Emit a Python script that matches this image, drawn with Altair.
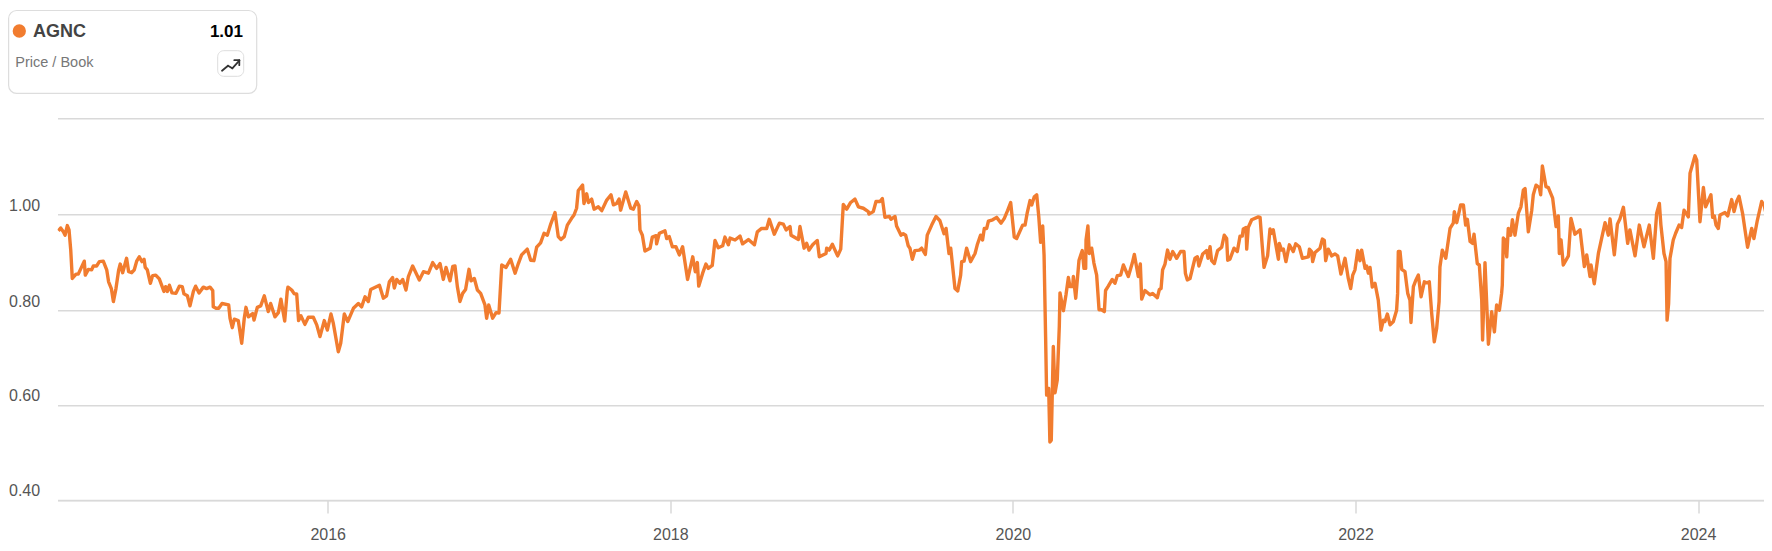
import altair as alt
import pandas as pd

TICKER = "AGNC"
LAST = "1.01"
METRIC = "Price / Book"
YEAR_TICKS = [2016, 2018, 2020, 2022, 2024]
VALUE_TICKS = [0.4, 0.6, 0.8, 1.0, 1.2]

years_2014 = [2014.428,2014.441,2014.457,2014.467,2014.480,2014.490,2014.500,2014.509,2014.531,2014.544,2014.579,2014.585,2014.603,2014.622,2014.632,2014.651,2014.667,2014.690,2014.710,2014.721,2014.737,2014.749,2014.764,2014.780,2014.789,2014.803,2014.826,2014.838,2014.856,2014.871,2014.885,2014.900,2014.916,2014.928,2014.935,2014.947,2014.965,2014.978,2014.996]
values_2014 = [.966,.972,.964,.957,.977,.968,.926,.867,.876,.876,.903,.874,.886,.885,.893,.893,.902,.903,.885,.860,.846,.819,.846,.885,.897,.879,.909,.881,.879,.885,.903,.912,.902,.907,.890,.885,.857,.873,.874]
years_2015 = [2015.017,2015.044,2015.054,2015.064,2015.076,2015.091,2015.114,2015.134,2015.151,2015.161,2015.181,2015.196,2015.216,2015.229,2015.249,2015.274,2015.293,2015.313,2015.329,2015.332,2015.348,2015.364,2015.383,2015.422,2015.430,2015.443,2015.455,2015.478,2015.498,2015.513,2015.523,2015.537,2015.562,2015.570,2015.589,2015.609,2015.630,2015.653,2015.667,2015.692,2015.712,2015.727,2015.749,2015.764,2015.768,2015.790,2015.805,2015.819,2015.830,2015.844,2015.867,2015.887,2015.916,2015.936,2015.955,2015.980,2015.998]
values_2015 = [.866,.840,.850,.840,.853,.837,.836,.851,.850,.835,.831,.810,.840,.851,.837,.849,.846,.849,.842,.808,.805,.805,.815,.812,.784,.764,.782,.779,.731,.784,.807,.787,.794,.780,.807,.810,.831,.798,.815,.787,.796,.824,.778,.841,.849,.843,.835,.835,.779,.789,.771,.786,.786,.770,.745,.779,.759]
years_2016 = [2016.019,2016.033,2016.062,2016.076,2016.097,2016.117,2016.150,2016.179,2016.198,2016.218,2016.237,2016.251,2016.302,2016.325,2016.344,2016.360,2016.379,2016.389,2016.403,2016.422,2016.438,2016.457,2016.471,2016.496,2016.535,2016.559,2016.588,2016.613,2016.636,2016.656,2016.675,2016.691,2016.714,2016.730,2016.743,2016.757,2016.772,2016.788,2016.805,2016.825,2016.837,2016.856,2016.874,2016.893,2016.918,2016.928,2016.940,2016.963,2016.983]
values_2016 = [.793,.773,.713,.731,.793,.777,.805,.815,.808,.829,.819,.844,.853,.826,.831,.860,.869,.847,.865,.857,.865,.843,.871,.893,.864,.881,.878,.900,.888,.898,.865,.890,.862,.892,.893,.850,.819,.836,.844,.886,.862,.867,.843,.836,.812,.784,.812,.784,.796]
years_2017 = [2017.000,2017.016,2017.041,2017.068,2017.094,2017.113,2017.132,2017.165,2017.185,2017.204,2017.220,2017.243,2017.263,2017.282,2017.302,2017.327,2017.346,2017.362,2017.381,2017.399,2017.424,2017.438,2017.453,2017.463,2017.488,2017.496,2017.512,2017.522,2017.541,2017.555,2017.580,2017.600,2017.629,2017.654,2017.668,2017.687,2017.701,2017.710,2017.740,2017.769,2017.784,2017.804,2017.817,2017.823,2017.837,2017.852,2017.882,2017.895,2017.917,2017.920,2017.936,2017.969,2017.979,2017.994]
values_2017 = [.795,.895,.890,.907,.878,.898,.916,.928,.905,.904,.932,.941,.961,.957,.980,1.004,.954,.948,.954,.978,.992,.999,1.013,1.050,1.061,1.023,1.043,1.025,1.032,1.011,1.016,1.008,1.030,1.041,1.020,1.023,1.032,1.009,1.047,1.013,1.011,1.027,1.018,.968,.957,.924,.930,.953,.956,.939,.961,.966,.950,.954]
years_2018 = [2018.012,2018.033,2018.053,2018.072,2018.101,2018.131,2018.146,2018.158,2018.166,2018.189,2018.208,2018.222,2018.245,2018.261,2018.280,2018.306,2018.319,2018.339,2018.349,2018.378,2018.407,2018.422,2018.456,2018.491,2018.508,2018.533,2018.563,2018.578,2018.607,2018.637,2018.660,2018.676,2018.699,2018.705,2018.748,2018.757,2018.781,2018.796,2018.810,2018.831,2018.858,2018.870,2018.909,2018.913,2018.928,2018.946,2018.977,2018.995]
values_2018 = [.933,.933,.916,.933,.865,.912,.881,.900,.851,.878,.897,.888,.894,.946,.931,.935,.953,.937,.951,.947,.955,.939,.948,.937,.964,.971,.971,.990,.959,.982,.980,.968,.975,.957,.948,.975,.930,.940,.926,.937,.946,.912,.919,.930,.926,.938,.914,.928]
years_2019 = [2019.010,2019.030,2019.053,2019.078,2019.098,2019.127,2019.156,2019.160,2019.185,2019.201,2019.224,2019.238,2019.253,2019.279,2019.288,2019.312,2019.321,2019.347,2019.360,2019.374,2019.389,2019.399,2019.413,2019.428,2019.454,2019.467,2019.489,2019.500,2019.526,2019.551,2019.574,2019.598,2019.610,2019.627,2019.637,2019.662,2019.678,2019.695,2019.701,2019.715,2019.730,2019.753,2019.779,2019.792,2019.811,2019.823,2019.833,2019.847,2019.857,2019.882,2019.905,2019.931,2019.950,2019.969,2019.987]
values_2019 = [1.021,1.011,1.025,1.032,1.016,1.013,1.006,1.001,1.006,1.027,1.027,1.033,.994,.996,.990,.996,.976,.957,.960,.957,.935,.930,.907,.925,.926,.930,.917,.957,.978,.996,.987,.960,.971,.919,.930,.846,.841,.874,.902,.903,.930,.902,.919,.937,.957,.947,.971,.971,.986,.989,.994,.982,.992,1.008,1.025]
years_2020 = [2020.008,2020.022,2020.057,2020.071,2020.084,2020.100,2020.110,2020.125,2020.139,2020.151,2020.162,2020.174,2020.182,2020.191,2020.197,2020.209,2020.216,2020.224,2020.236,2020.246,2020.259,2020.271,2020.275,2020.295,2020.310,2020.324,2020.333,2020.349,2020.353,2020.367,2020.386,2020.405,2020.415,2020.425,2020.427,2020.438,2020.446,2020.460,2020.473,2020.489,2020.503,2020.518,2020.534,2020.541,2020.557,2020.580,2020.596,2020.610,2020.629,2020.645,2020.674,2020.697,2020.709,2020.732,2020.744,2020.752,2020.771,2020.800,2020.816,2020.843,2020.855,2020.865,2020.874,2020.888,2020.903,2020.917,2020.933,2020.956,2020.979,2020.999]
values_2020 = [.953,.950,.978,.978,1.004,1.029,1.020,1.037,1.041,.996,.942,.976,.916,.745,.621,.635,.522,.526,.724,.626,.653,.767,.837,.800,.833,.869,.850,.850,.871,.826,.905,.925,.888,.888,.947,.976,.919,.930,.899,.874,.802,.802,.798,.842,.851,.865,.857,.873,.874,.895,.871,.899,.917,.871,.897,.824,.842,.833,.836,.827,.844,.846,.885,.897,.926,.907,.923,.909,.923,.923]
years_2021 = [2021.007,2021.018,2021.034,2021.063,2021.077,2021.086,2021.108,2021.131,2021.139,2021.151,2021.160,2021.176,2021.195,2021.219,2021.234,2021.248,2021.254,2021.267,2021.291,2021.310,2021.326,2021.339,2021.345,2021.361,2021.365,2021.374,2021.394,2021.433,2021.443,2021.456,2021.466,2021.487,2021.501,2021.511,2021.520,2021.550,2021.555,2021.569,2021.579,2021.594,2021.614,2021.637,2021.651,2021.672,2021.690,2021.725,2021.731,2021.744,2021.750,2021.764,2021.793,2021.807,2021.818,2021.826,2021.841,2021.861,2021.880,2021.896,2021.915,2021.939,2021.958,2021.972,2021.984,2021.997]
values_2021 = [.878,.864,.867,.909,.912,.893,.918,.925,.909,.933,.904,.898,.925,.932,.957,.950,.905,.907,.930,.923,.955,.955,.970,.973,.928,.973,.989,.995,.994,.933,.890,.914,.970,.961,.968,.907,.940,.926,.928,.902,.937,.923,.939,.933,.909,.912,.928,.923,.902,.921,.930,.949,.946,.904,.928,.914,.918,.914,.876,.909,.867,.846,.874,.885]
years_2022 = [2022.013,2022.026,2022.036,2022.056,2022.065,2022.075,2022.085,2022.098,2022.114,2022.133,2022.149,2022.163,2022.172,2022.186,2022.202,2022.221,2022.240,2022.246,2022.250,2022.260,2022.270,2022.289,2022.305,2022.318,2022.324,2022.338,2022.353,2022.367,2022.383,2022.402,2022.416,2022.431,2022.445,2022.460,2022.474,2022.488,2022.493,2022.507,2022.527,2022.552,2022.571,2022.577,2022.591,2022.614,2022.630,2022.643,2022.653,2022.669,2022.684,2022.692,2022.711,2022.723,2022.737,2022.742,2022.756,2022.776,2022.795,2022.811,2022.824,2022.840,2022.853,2022.857,2022.863,2022.873,2022.883,2022.892,2022.906,2022.916,2022.931,2022.951,2022.966,2022.980,2022.990]
values_2022 = [.925,.904,.926,.888,.893,.878,.890,.849,.857,.822,.759,.780,.777,.793,.770,.777,.801,.836,.923,.923,.886,.881,.836,.822,.775,.850,.864,.874,.829,.860,.858,.860,.794,.734,.763,.819,.891,.926,.909,.971,.982,1.006,.983,1.020,1.020,.978,.990,.944,.940,.959,.898,.895,.822,.738,.900,.729,.798,.755,.812,.801,.836,.853,.951,.947,.912,.971,.957,.989,.957,1.003,1.016,1.051,1.054]
years_2023 = [2023.009,2023.029,2023.038,2023.054,2023.073,2023.081,2023.091,2023.112,2023.126,2023.151,2023.171,2023.184,2023.190,2023.200,2023.213,2023.243,2023.258,2023.281,2023.311,2023.320,2023.336,2023.350,2023.369,2023.375,2023.394,2023.418,2023.457,2023.476,2023.486,2023.511,2023.529,2023.544,2023.564,2023.589,2023.602,2023.632,2023.657,2023.684,2023.715,2023.739,2023.758,2023.774,2023.783,2023.801,2023.813,2023.819,2023.828,2023.836,2023.855,2023.869,2023.889,2023.904,2023.918,2023.943,2023.953,2023.982,2023.992]
values_2023 = [.964,1.009,1.041,1.061,1.056,1.041,1.101,1.058,1.056,1.034,.975,.997,.919,.947,.895,.914,.992,.959,.968,.940,.892,.916,.871,.895,.856,.919,.983,.957,.991,.916,.980,.991,1.015,.940,.968,.914,.978,.933,.978,.909,1.002,1.023,.978,.919,.902,.780,.815,.909,.947,.961,.978,.973,1.009,.995,1.086,1.122,1.113]
years_2024 = [2024.011,2024.031,2024.044,2024.075,2024.085,2024.095,2024.105,2024.118,2024.128,2024.157,2024.173,2024.196,2024.210,2024.225,2024.239,2024.260,2024.274,2024.289,2024.313,2024.326,2024.346,2024.371,2024.385,2024.410,2024.426]
values_2024 = [.985,1.056,1.016,1.041,.994,.997,.978,.971,.999,1.004,.997,1.031,1.006,1.027,1.038,1.002,.968,.932,.971,.950,.988,1.027,1.020,.982,1.009]

years = years_2014 + years_2015 + years_2016 + years_2017 + years_2018 + years_2019 + years_2020 + years_2021 + years_2022 + years_2023 + years_2024
values = values_2014 + values_2015 + values_2016 + values_2017 + values_2018 + values_2019 + values_2020 + values_2021 + values_2022 + values_2023 + values_2024

ORANGE = "#f17c2f"
GRID = "#d9d9d9"
FONT = "Liberation Sans"

# page position of the plot area's top-left corner
PX, PY = 57.5, 118.3
PW, PH = 1706.5, 381.7


def lx(v):
    return v - PX


def ly(v):
    return v - PY


df = pd.DataFrame({"year": years, "value": values})

line = (
    alt.Chart(df)
    .mark_line(color=ORANGE, strokeWidth=3.4, clip=True, strokeJoin="round")
    .encode(
        x=alt.X(
            "year:Q",
            scale=alt.Scale(domain=[2014.4227, 2024.3848], nice=False, zero=False),
            axis=alt.Axis(
                values=YEAR_TICKS,
                format="d",
                title=None,
                grid=False,
                domainColor=GRID,
                domainWidth=1.5,
                tickColor=GRID,
                tickWidth=1.5,
                tickSize=13,
                labelFont=FONT,
                labelFontSize=16,
                labelColor="#555555",
                labelPadding=13,
            ),
        ),
        y=alt.Y(
            "value:Q",
            scale=alt.Scale(domain=VALUE_TICKS, range=[PH, 286.7, 192.4, 96.2, 0], zero=False, nice=False),
            axis=alt.Axis(
                values=VALUE_TICKS,
                title=None,
                domain=False,
                ticks=False,
                grid=True,
                gridColor=GRID,
                gridWidth=1.5,
                labelExpr="datum.value > 1.1 ? '' : format(datum.value, '.2f')",
                labelAlign="left",
                labelPadding=49,
                labelOffset=-9.5,
                labelFont=FONT,
                labelFontSize=16,
                labelColor="#555555",
            ),
        ),
    )
)

one = pd.DataFrame({"k": [0]})
base = alt.Chart(one)

card = base.mark_rect(cornerRadius=8, fill="white", stroke="#dddddd", strokeWidth=1.2).encode(
    x=alt.value(lx(8.6)), x2=alt.value(lx(256.7)), y=alt.value(ly(10.5)), y2=alt.value(ly(93.3))
)
dot = base.mark_point(filled=True, color=ORANGE, size=177, opacity=1, shape="circle").encode(
    x=alt.value(lx(19.3)), y=alt.value(ly(31))
)
name = base.mark_text(text=TICKER, font=FONT, fontWeight="bold", fontSize=18, color="#444444", align="left", baseline="middle").encode(
    x=alt.value(lx(33)), y=alt.value(ly(31.5))
)
last = base.mark_text(text=LAST, font=FONT, fontWeight="bold", fontSize=17, color="#000000", align="right", baseline="middle").encode(
    x=alt.value(lx(243)), y=alt.value(ly(31.5))
)
metric = base.mark_text(text=METRIC, font=FONT, fontSize=14.5, color="#777777", align="left", baseline="middle").encode(
    x=alt.value(lx(15.3)), y=alt.value(ly(63))
)
icon_box = base.mark_rect(cornerRadius=6, fill="white", stroke="#dddddd", strokeWidth=1).encode(
    x=alt.value(lx(217.7)), x2=alt.value(lx(243.7)), y=alt.value(ly(50.7)), y2=alt.value(ly(76.3))
)

segments = [
    (222, 70.7, 228, 65.7),
    (228, 65.7, 232.3, 68.3),
    (232.3, 68.3, 239.3, 60.7),
    (234.3, 60.2, 239.3, 60.2),
    (239.3, 60.2, 239.3, 65.2),
]
arrow = [
    base.mark_rule(color="#333333", strokeWidth=1.8, strokeCap="round").encode(
        x=alt.value(lx(a)), y=alt.value(ly(b)), x2=alt.value(lx(c)), y2=alt.value(ly(d))
    )
    for a, b, c, d in segments
]

chart = (
    alt.layer(line, card, dot, name, last, metric, icon_box, *arrow)
    .properties(
        width=PW,
        height=PH,
        padding={"left": PX - 8, "top": PY - 8, "right": 0, "bottom": 45},
        autosize=alt.AutoSizeParams(type="none"),
        background="white",
    )
    .configure_view(strokeWidth=0)
)

chart.save("out.html", embed_options={"renderer": "svg", "actions": False})
